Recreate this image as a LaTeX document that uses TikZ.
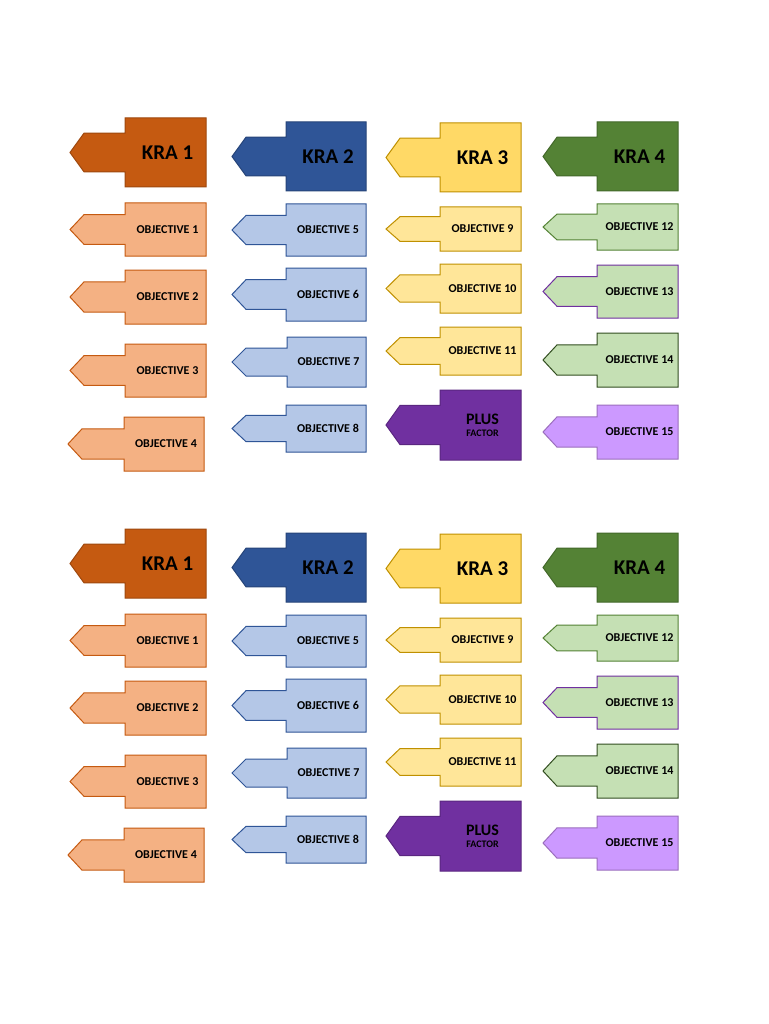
\documentclass[tikz,border=0pt]{standalone}
\usepackage{fontspec}
\setmainfont{Carlito}
\definecolor{oD}{HTML}{C55A11}\definecolor{oL}{HTML}{F4B183}
\definecolor{bD}{HTML}{2F5597}\definecolor{bL}{HTML}{B4C7E7}
\definecolor{yD}{HTML}{FFD966}\definecolor{yL}{HTML}{FFE699}\definecolor{yB}{HTML}{BF9000}
\definecolor{gD}{HTML}{548235}\definecolor{gL}{HTML}{C5E0B4}
\definecolor{pD}{HTML}{7030A0}\definecolor{pL}{HTML}{CC99FF}
\newcommand\kfs{\fontsize{21}{22}\selectfont}
\newcommand\ofs{\fontsize{12}{13}\selectfont}
\newcommand\kratag[9]{%
 \pgfmathsetmacro\ym{(#5+#6)/2}\pgfmathsetmacro\th{0.28*(#6-#5)}%
 \pgfmathsetmacro\xc{#2+14}\pgfmathsetmacro\xt{(#3+#4)/2+2}%
 \draw[fill=#7,draw=#8,line width=1pt,line join=miter]
  (#2,\ym) -- (\xc,\ym-\th) -- (#3,\ym-\th) -- (#3,#5) -- (#4,#5) -- (#4,#6)
  -- (#3,#6) -- (#3,\ym+\th) -- (\xc,\ym+\th) -- cycle;
 \node[font=\bfseries,align=center,inner sep=0pt] (#1) at (\xt,\ym) {#9};}
\begin{document}
\begin{tikzpicture}[x=1pt,y=-1pt]
\useasboundingbox[fill=white] (0,0) rectangle (768,1024);
\foreach \s/\p in {0/a,411/b}{
\begin{scope}[yshift=-\s pt]
\kratag{\p k1}{70}{125}{206}{118}{187}{oD}{oD!80!black}{\kfs KRA 1}
\kratag{\p o1}{70}{125}{206}{203}{256}{oL}{oD}{\ofs OBJECTIVE 1}
\kratag{\p o2}{70}{125}{206}{270}{324}{oL}{oD}{\ofs OBJECTIVE 2}
\kratag{\p o3}{70}{125}{206}{344}{397}{oL}{oD}{\ofs OBJECTIVE 3}
\kratag{\p o4}{68}{124}{204}{417}{471}{oL}{oD}{\ofs OBJECTIVE 4}
\kratag{\p k2}{232}{286}{366}{122}{191}{bD}{bD!80!black}{\kfs KRA 2}
\kratag{\p o5}{232}{286}{366}{204}{256}{bL}{bD}{\ofs OBJECTIVE 5}
\kratag{\p o6}{232}{286}{366}{268}{321}{bL}{bD}{\ofs OBJECTIVE 6}
\kratag{\p o7}{232}{287}{366}{337}{387}{bL}{bD}{\ofs OBJECTIVE 7}
\kratag{\p o8}{232}{286}{366}{405}{452}{bL}{bD}{\ofs OBJECTIVE 8}
\kratag{\p k3}{386}{440}{521}{123}{192}{yD}{yB}{\kfs KRA 3}
\kratag{\p o9}{386}{440}{521}{207}{251}{yL}{yB}{\ofs OBJECTIVE 9}
\kratag{\p o10}{386}{440}{521}{264}{313}{yL}{yB}{\ofs OBJECTIVE 10}
\kratag{\p o11}{386}{440}{521}{327}{375}{yL}{yB}{\ofs OBJECTIVE 11}
\kratag{\p pf}{386}{440}{521}{390}{460}{pD}{pD!80!black}{\fontsize{16}{32}\selectfont PLUS\\FACTOR}
\kratag{\p k4}{543}{597}{678}{122}{191}{gD}{gD!80!black}{\kfs KRA 4}
\kratag{\p o12}{543}{597}{678}{204}{250}{gL}{gD}{\ofs OBJECTIVE 12}
\kratag{\p o13}{543}{597}{678}{265}{318}{gL}{pD}{\ofs OBJECTIVE 13}
\kratag{\p o14}{543}{597}{678}{333}{387}{gL}{gD!60!black}{\ofs OBJECTIVE 14}
\kratag{\p o15}{543}{597}{678}{405}{459}{pL}{pD!70}{\ofs OBJECTIVE 15}
\end{scope}}
\end{tikzpicture}
\end{document}
